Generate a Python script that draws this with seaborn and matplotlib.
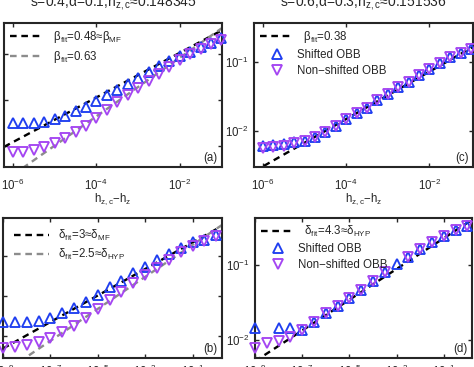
import numpy as np
import matplotlib
matplotlib.use('Agg')
import matplotlib.pyplot as plt
import seaborn as sns

sns.set_style('ticks')
plt.rcParams['font.family'] = ['Liberation Sans', 'DejaVu Sans']
plt.rcParams['mathtext.fontset'] = 'custom'
plt.rcParams['mathtext.rm'] = 'Liberation Sans'
plt.rcParams['mathtext.it'] = 'Liberation Sans:italic'
plt.rcParams['mathtext.default'] = 'regular'
plt.rcParams['font.size'] = 8.3
plt.rcParams['axes.linewidth'] = 1.5

BLUE = '#1f3ef0'
PURPLE = '#a445f2'
GRAY = '#8c8c8c'

# --- values ---
# top row: h_zc - h_z (quarter decades)
h_top = [1e-6, 1.78e-6, 3.16e-6, 5.62e-6, 1e-5, 1.78e-5, 3.16e-5, 5.62e-5,
         1e-4, 1.78e-4, 3.16e-4, 5.62e-4, 1e-3, 1.78e-3, 3.16e-3, 5.62e-3,
         1e-2, 1.78e-2, 3.16e-2, 5.62e-2, 1e-1]
# bottom row: field (half decades)
h_bot = [1e-9, 3.16e-9, 1e-8, 3.16e-8, 1e-7, 3.16e-7, 1e-6, 3.16e-6, 1e-5,
         3.16e-5, 1e-4, 3.16e-4, 1e-3, 3.16e-3, 1e-2, 3.16e-2, 1e-1, 3.16e-1, 1.0]

# (a) s=0.4, alpha=0.1
m_shift_a = [0.0032, 0.0032, 0.0032, 0.00337, 0.0039, 0.00453, 0.0058, 0.00706,
             0.00951, 0.0128, 0.0164, 0.0221, 0.0297, 0.040, 0.0538, 0.069,
             0.0883, 0.108, 0.138, 0.168, 0.215]
m_noshift_a = [0.000762, 0.000762, 0.000842, 0.000975, 0.00119, 0.00152, 0.00205,
               0.00276, 0.0041, 0.0061, 0.00906, 0.0128, 0.0181, 0.0256, 0.0362,
               0.0513, 0.0724, 0.0975, 0.125, 0.160, 0.195]
fit_a_x = [6.08e-7, 0.1028]
fit_a_mf = [9.8e-4, 0.317]
fit_a_63 = [1.79e-4, 0.353]

# (c) s=0.6, alpha=0.3
m_shift_c = [0.0060, 0.0062, 0.0064, 0.0069, 0.00716, 0.00818, 0.00968, 0.0118,
             0.0149, 0.0182, 0.0216, 0.0281, 0.0344, 0.0434, 0.0513, 0.0648,
             0.0792, 0.0968, 0.118, 0.135, 0.154]
m_noshift_c = [0.00568, 0.00586, 0.00606, 0.0067, 0.00716, 0.00818, 0.00968, 0.0118,
               0.0149, 0.0182, 0.0216, 0.0281, 0.0344, 0.0434, 0.0513, 0.0648,
               0.0792, 0.0968, 0.118, 0.135, 0.154]
fit_c_x = [6.08e-7, 0.1117]
fit_c_38 = [0.00258, 0.1656]

# (b) s=0.4, alpha=0.1
m_shift_b = [0.00224, 0.00224, 0.00224, 0.00237, 0.00282, 0.00376, 0.00501, 0.00708,
             0.0106, 0.0168, 0.0237, 0.0376, 0.0531, 0.0794, 0.112, 0.158, 0.224,
             0.251, 0.335]
m_noshift_b = [5.01e-4, 5.31e-4, 5.96e-4, 7.08e-4, 8.91e-4, 0.00126, 0.00178, 0.00282,
               0.00473, 0.00794, 0.0126, 0.0211, 0.0335, 0.0501, 0.0794, 0.126,
               0.178, 0.237, 0.316]
fit_b_x = [1e-9, 1.74]
fit_b_mf = [4.87e-4, 0.562]
fit_b_hyp = [1.2e-4, 0.596]

# (d) s=0.6, alpha=0.3
m_shift_d = [0.01445, np.nan, 0.01445, 0.01445, 0.01339, 0.01738, 0.02256, 0.02884,
             0.03687, 0.04642, 0.06119, 0.08072, 0.1031, 0.1279, 0.166, 0.2056,
             0.2437, 0.2929, 0.3311]
m_noshift_d = [0.00782, 0.00898, 0.0097, 0.01096, 0.01339, 0.01738, 0.02256, 0.02884,
               0.03687, 0.04642, 0.06119, 0.08072, np.nan, 0.1279, 0.166, 0.2056,
               0.2437, 0.2929, 0.3311]
fit_d_x = [1e-9, 1.567]
fit_d_hyp = [0.0052, 0.401]

W, H = 474, 367
fig = plt.figure(figsize=(W / 100, H / 100), dpi=100)
ax_a = fig.add_axes([4 / W, 1 - 167 / H, 218 / W, 144 / H])
ax_c = fig.add_axes([254 / W, 1 - 167 / H, 219 / W, 144 / H])
ax_b = fig.add_axes([3 / W, 1 - 358 / H, 219 / W, 140 / H])
ax_d = fig.add_axes([255 / W, 1 - 358 / H, 217 / W, 140 / H])

DASH = (0, (2.8, 2.0))


def fit_line(ax, x, y, color, label):
    sns.lineplot(x=x, y=y, ax=ax, color=color, lw=1.7, linestyle=DASH,
                 estimator=None, sort=False, label=label, legend=False)


def markers(ax, x, y, marker, color, label=None):
    sns.lineplot(x=x, y=y, ax=ax, marker=marker, linestyle='none', color=color,
                 markersize=6.5, markerfacecolor='none', markeredgecolor=color,
                 markeredgewidth=1.35, clip_on=False, estimator=None, sort=False,
                 label=label, legend=False, zorder=3)


for ax in (ax_a, ax_b, ax_c, ax_d):
    ax.set_xscale('log')
    ax.set_yscale('log')

# panel (a)
fit_line(ax_a, fit_a_x, fit_a_mf, 'k', '  β$_{fit}$=0.48≈β$_{MF}$')
fit_line(ax_a, fit_a_x, fit_a_63, GRAY, '  β$_{fit}$=0.63')
markers(ax_a, h_top, m_shift_a, '^', BLUE)
markers(ax_a, h_top, m_noshift_a, 'v', PURPLE)
ax_a.set_xlim(6.08e-7, 0.1028)
ax_a.set_ylim(3.62e-4, 0.453)
ax_a.set_xticks([1e-6, 1e-4, 1e-2])
ax_a.set_yticks([1e-3, 1e-2, 1e-1])

# panel (c)
fit_line(ax_c, fit_c_x, fit_c_38, 'k', '  β$_{fit}$=0.38')
markers(ax_c, h_top, m_shift_c, '^', BLUE, 'Shifted OBB')
markers(ax_c, h_top, m_noshift_c, 'v', PURPLE, 'Non−shifted OBB')
ax_c.set_xlim(6.08e-7, 0.1117)
ax_c.set_ylim(0.0030, 0.367)
ax_c.set_xticks([1e-6, 1e-4, 1e-2])
ax_c.set_yticks([1e-2, 1e-1])

# panel (b)
fit_line(ax_b, fit_b_x, fit_b_mf, 'k', '  δ$_{fit}$=3≈δ$_{MF}$')
fit_line(ax_b, fit_b_x, fit_b_hyp, GRAY, '  δ$_{fit}$=2.5≈δ$_{HYP}$')
markers(ax_b, h_bot, m_shift_b, '^', BLUE)
markers(ax_b, h_bot, m_noshift_b, 'v', PURPLE)
ax_b.set_xlim(1e-9, 1.74)
ax_b.set_ylim(2.82e-4, 0.891)
ax_b.set_xticks([1e-9, 1e-7, 1e-5, 1e-3, 1e-1])
ax_b.set_yticks([1e-3, 1e-2, 1e-1])

# panel (d)
fit_line(ax_d, fit_d_x, fit_d_hyp, 'k', '  δ$_{fit}$=4.3≈δ$_{HYP}$')
markers(ax_d, h_bot, m_shift_d, '^', BLUE, 'Shifted OBB')
markers(ax_d, h_bot, m_noshift_d, 'v', PURPLE, 'Non−shifted OBB')
ax_d.set_xlim(1e-9, 1.567)
ax_d.set_ylim(0.00575, 0.424)
ax_d.set_xticks([1e-9, 1e-7, 1e-5, 1e-3, 1e-1])
ax_d.set_yticks([1e-2, 1e-1])

legend_anchor = {'(a)': (0, 1), '(b)': (0.025, 0.97), '(c)': (0, 1), '(d)': (0, 1)}

for ax, tag in ((ax_a, '(a)'), (ax_b, '(b)'), (ax_c, '(c)'), (ax_d, '(d)')):
    ax.minorticks_off()
    ax.tick_params(which='both', direction='in', top=True, right=True,
                   length=3, width=1, pad=4, labelsize=8.3)
    ax.set_ylabel('')
    ax.annotate(tag, xy=(1, 0), xycoords='axes fraction', xytext=(-3, 2),
                textcoords='offset points', ha='right', va='bottom')
    ax.legend(loc='upper left', bbox_to_anchor=legend_anchor[tag], frameon=False,
              handlelength=3.0, handletextpad=0.25, labelspacing=0.35,
              borderaxespad=0.3, borderpad=0.2, numpoints=1, fontsize=8.3)

# top row: x labels sit a bit lower, as in the original
for ax in (ax_a, ax_c):
    ax.tick_params(axis='x', pad=7.5)
    ax.set_xlabel('h$_{z,c}$−h$_z$', labelpad=-1)

fig.text(113 / W, 1 - 6 / H, 's=0.4,α=0.1,h$_{z,c}$≈0.148345',
         ha='center', va='baseline', fontsize=10)
fig.text(363 / W, 1 - 6 / H, 's=0.6,α=0.3,h$_{z,c}$≈0.151536',
         ha='center', va='baseline', fontsize=10)

fig.savefig('out.png', dpi=100)
